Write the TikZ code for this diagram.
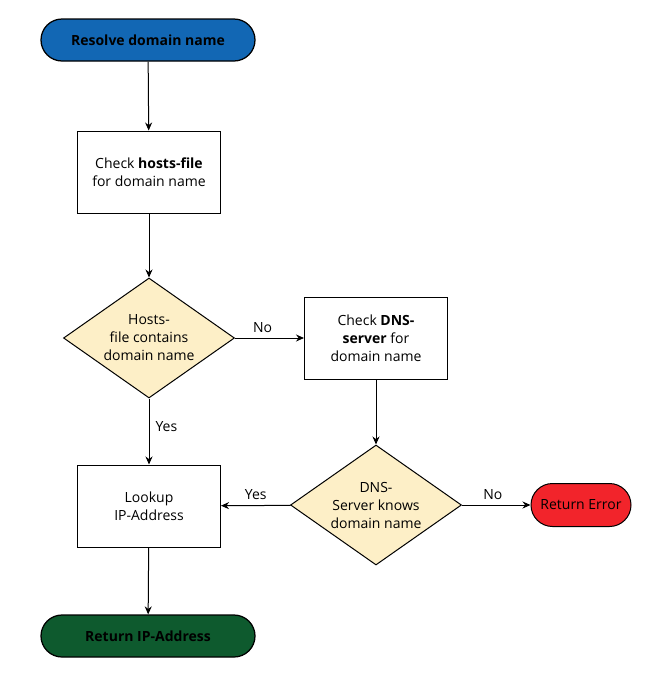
\documentclass[tikz,border=0pt]{standalone}
\usepackage{fontspec}
\setmainfont{Open Sans}
\usetikzlibrary{shapes.geometric,shapes.misc,arrows.meta}
\definecolor{termblue}{HTML}{1267B4}
\definecolor{termgreen}{HTML}{0E5A2E}
\definecolor{termred}{HTML}{F2242B}
\definecolor{decfill}{HTML}{FDEFC7}
\begin{document}
\begin{tikzpicture}
[every node/.style={inner sep=0pt, font=\fontsize{14}{18}\selectfont, align=center},
 term/.style={rounded rectangle, draw=black, line width=1.25pt, minimum width=214pt, minimum height=42pt, font=\fontsize{14}{18}\selectfont\bfseries},
 box/.style={rectangle, draw=black, line width=1pt, fill=white, minimum width=143pt, minimum height=82pt},
 dec/.style={diamond, draw=black, line width=1pt, fill=decfill, minimum width=171pt, minimum height=120pt, aspect=1.42},
 flow/.style={line width=1pt, -{Stealth[length=8pt,width=7pt]}}]
\useasboundingbox (0pt,0pt) rectangle (672pt,-678pt);
\node (start) [term, fill=termblue] at (148pt, -40pt) {Resolve domain name};
\node (hosts) [box] at (149pt, -172pt) {Check \textbf{hosts-file}\\for domain name};
\node (inhosts) [dec] at (149pt, -338pt) {Hosts-\\file contains\\domain name};
\node (dns) [box] at (376pt, -338pt) {Check \textbf{DNS-}\\\textbf{server} for\\domain name};
\node (knows) [dec] at (376pt, -505pt) {DNS-\\Server knows\\domain name};
\node (lookup) [box] at (149pt, -506pt) {Lookup\\IP-Address};
\node (error) [rounded rectangle, draw=black, line width=1pt, fill=termred, minimum width=100pt, minimum height=43pt] at (581pt, -505pt) {Return Error};
\node (done) [term, fill=termgreen] at (148pt, -636pt) {Return IP-Address};
\draw [flow] (start) -- (hosts);
\draw [flow] (hosts) -- (inhosts);
\draw [flow] (inhosts) -- node [above=5pt, pos=0.4] {No} (dns);
\draw [flow] (inhosts) -- node [right=6pt, pos=0.42] {Yes} (lookup);
\draw [flow] (dns) -- (knows);
\draw [flow] (knows) -- node [above=5pt] {Yes} (lookup);
\draw [flow] (knows) -- node [above=5pt, pos=0.45] {No} (error);
\draw [flow] (lookup) -- (done);
\end{tikzpicture}
\end{document}
